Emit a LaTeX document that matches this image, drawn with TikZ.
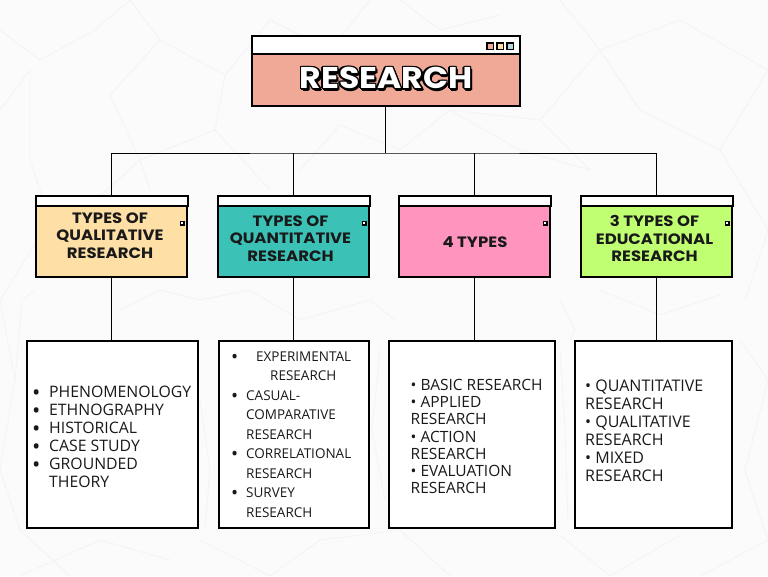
\documentclass[tikz,border=0pt]{standalone}
\usepackage{fontspec}
\setmainfont{Open Sans}
\newfontfamily\headfont[FakeStretch=1.1]{Poppins}
\usetikzlibrary{positioning, calc}
\definecolor{paper}{HTML}{FBFBFB}
\definecolor{crease}{HTML}{F4F4F4}
\definecolor{salmon}{HTML}{F0A997}
\definecolor{butter}{HTML}{FEDFA5}
\definecolor{teal2}{HTML}{3CC1B7}
\definecolor{rose}{HTML}{FF94BF}
\definecolor{lime2}{HTML}{C1FF72}
\definecolor{sky}{HTML}{B5D8E3}
\tikzset{
  winbox/.style={draw=black, line width=2pt, outer sep=0pt, inner sep=0pt},
  listbox/.style={winbox, fill=white},
  dot/.style={draw=black, line width=1.8pt, outer sep=0pt, inner sep=0pt, minimum size=6.8pt},
  link/.style={draw=black, line width=0.9pt},
  creaseline/.style={draw=crease, line width=0.9pt, line join=round},
  cardtext/.style={font=\headfont\bfseries\fontsize{15}{17.5}\selectfont, align=center, inner sep=0pt, text=black!90},
  titletext/.style={font=\headfont\bfseries\fontsize{30}{30}\selectfont, inner sep=0pt},
  listtext/.style={align=left, inner sep=0pt, anchor=west, text=black!90},
}
\newcommand{\bul}[2]{\makebox[#1pt][l]{\raisebox{-0.15em}{\scalebox{1.4}{•}}}#2}
\begin{document}
\begin{tikzpicture}[x=1pt,y=-1pt]
\useasboundingbox (0,0) rectangle (768,576);
\fill[paper] (0,0) rectangle (768,576);
% Paper creases
\foreach \a/\b/\c/\d/\e/\f in {
  0/30/40/60/95/30, 95/30/130/0/160/40, 160/40/110/95/140/160,
  0/110/30/70/30/160, 30/160/50/220/0/300, 140/160/85/210/50/220,
  160/40/225/75/270/20, 225/75/215/130/270/190, 215/130/140/160/150/190,
  270/20/330/50/370/0, 560/0/600/50/680/20, 600/50/540/120/590/170,
  680/20/768/70/720/150, 720/150/640/110/600/50, 720/150/768/230/745/300,
  540/120/450/110/400/150, 400/150/340/125/300/170, 590/170/520/150/450/110,
  0/300/15/380/0/470, 15/380/22/300/35/290, 0/470/20/530/70/576,
  200/300/250/290/300/320, 300/320/370/300/395/320, 560/300/575/330/570/340,
  740/340/768/380/745/470, 745/470/768/540/700/576, 200/540/270/576/320/540,
  320/540/400/530/450/576, 560/535/610/576/680/535, 200/400/210/470/205/530,
  560/350/565/430/568/520, 380/350/372/430/385/500, 200/300/160/290/120/310,
  600/290/660/315/720/295, 20/576/100/540/170/560, 400/0/440/30/500/15}
  \draw[creaseline] (\a,\b) -- (\c,\d) -- (\e,\f);
% Title window
\node[winbox, fill=white, minimum width=268pt, minimum height=18pt] (titlebar) at (386,45) {};
\node[winbox, fill=salmon, minimum width=268pt, minimum height=52pt] (title) at (386,80) {};
\foreach \i/\col in {1/salmon,2/butter,3/sky}
  \node[dot, fill=\col] (btn\i) at ({480+10*\i},46) {};
% Title text, outline first
\foreach \dx/\dy [count=\k] in {-1.5/0,1.5/0,0/-1.5,0/1.5,-1.1/-1.1,1.1/-1.1,-1.1/1.1,1.1/1.1,2/1.5,2.5/2,1.5/2.5}
  \node[titletext, text=black] (back\k) at ({386+\dx},{78+\dy}) {RESEARCH};
\node[titletext, text=white] (titlelabel) at (386,78) {RESEARCH};
% Cards
\foreach \i/\xa/\col/\tx/\ty/\txt in {
  1/36/butter/110/235.5/{TYPES OF\\QUALITATIVE\\RESEARCH},
  2/218/teal2/290.5/238.5/{TYPES OF\\QUANTITATIVE\\RESEARCH},
  3/399/rose/475/242.5/{4 TYPES},
  4/581/lime2/654.5/238.5/{3 TYPES OF\\EDUCATIONAL\\RESEARCH}} {
  \node[winbox, fill=white, minimum width=152pt, minimum height=10pt] (head\i) at ({\xa+76},201) {};
  \node[winbox, fill=\col, minimum width=151pt, minimum height=71pt] (card\i) at ({\xa+75.5},241.5) {};
  \node[draw=black, line width=1.5pt, fill=white, inner sep=0pt, minimum size=3.5pt] (mark\i) at ({\xa+146},223) {};
  \node[cardtext] (label\i) at (\tx,\ty) {\txt};
}
% Lists
\node[listbox, minimum width=171pt, minimum height=187pt] (list1) at (112.5,434.5) {};
\node[listbox, minimum width=150pt, minimum height=187pt] (list2) at (294,434.5) {};
\node[listbox, minimum width=166pt, minimum height=187pt] (list3) at (472,434.5) {};
\node[listbox, minimum width=157pt, minimum height=187pt] (list4) at (653.5,434.5) {};
\node[listtext, font=\fontsize{15.8}{18}\selectfont] (items1) at (32,437) {
  \bul{17}{PHENOMENOLOGY}\\ \bul{17}{ETHNOGRAPHY}\\ \bul{17}{HISTORICAL}\\
  \bul{17}{CASE STUDY}\\ \bul{17}{GROUNDED}\\ \hspace*{17pt}THEORY};
\node[listtext, font=\fontsize{13.5}{19.5}\selectfont] (items2) at (231,434.5) {
  \bul{25}{EXPERIMENTAL}\\ \hspace*{39pt}RESEARCH\\ \bul{15}{CASUAL-}\\ \hspace*{15pt}COMPARATIVE\\
  \hspace*{15pt}RESEARCH\\ \bul{15}{CORRELATIONAL}\\ \hspace*{15pt}RESEARCH\\ \bul{15}{SURVEY}\\ \hspace*{15pt}RESEARCH};
\node[listtext, font=\fontsize{15.5}{17.2}\selectfont] (items3) at (410.5,436.5) {
  • BASIC RESEARCH\\ • APPLIED\\ RESEARCH\\ • ACTION\\ RESEARCH\\ • EVALUATION\\ RESEARCH};
\node[listtext, font=\fontsize{16}{18}\selectfont] (items4) at (585,431) {
  • QUANTITATIVE\\ RESEARCH\\ • QUALITATIVE\\ RESEARCH\\ • MIXED\\ RESEARCH};
% Connectors
\coordinate (bus) at (385.5,153);
\draw[link] (title.south -| bus) -- (bus);
\draw[link] (head1.north -| card1) |- (bus) -| (head4.north -| card4);
\draw[link, line width=1.5pt] (head2.north -| card2) -- (card2 |- bus);
\draw[link] (head3.north -| card3) -- (card3 |- bus);
\foreach \i in {1,...,4}
  \draw[link] (card\i.south) -- (list\i.north -| card\i);
\end{tikzpicture}
\end{document}
